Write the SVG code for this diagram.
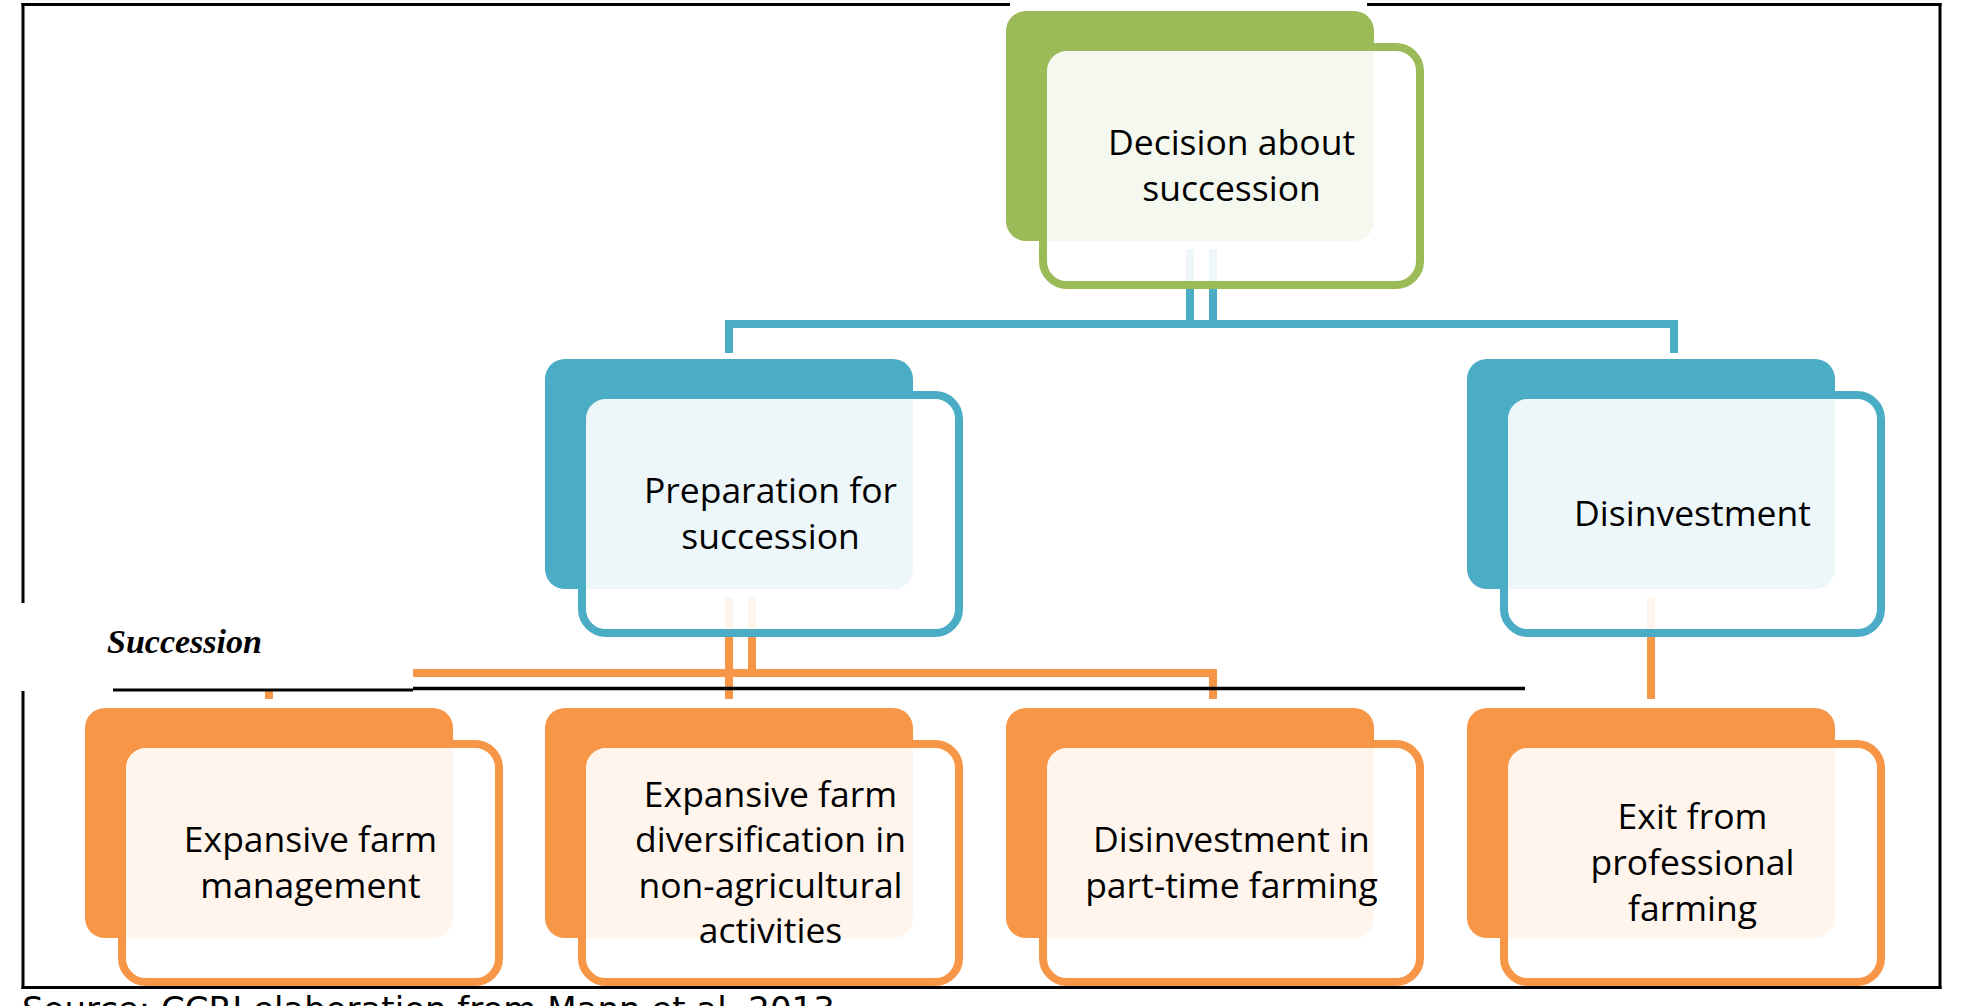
<svg xmlns="http://www.w3.org/2000/svg" width="1963" height="1006" viewBox="0 0 1963 1006">
<style>
.bk{stroke:none}
.fr{fill:#ffffff;fill-opacity:0.9;stroke-width:8}
.green .bk{fill:#9BBB59}
.green .fr{stroke:#9BBB59}
.blue .bk{fill:#4BACC6}
.blue .fr{stroke:#4BACC6}
.orange .bk{fill:#F79646}
.orange .fr{stroke:#F79646}
.lbl{font-family:"Open Sans","Noto Sans",sans-serif;font-size:35.5px;fill:#000000;text-anchor:middle}
#connectors path{fill:none;stroke-width:8;stroke-linecap:butt;stroke-linejoin:miter}
.cb{stroke:#4BACC6}
.co{stroke:#F79646}
.frame line{stroke:#000000;stroke-width:3}
.succ{font-family:"Liberation Serif","Times New Roman",serif;font-size:34px;font-weight:bold;font-style:italic;fill:#000000}
.src{font-family:"DejaVu Sans",Verdana,sans-serif;font-size:34px;fill:#000000}
</style>
<rect x="0" y="0" width="1963" height="1006" fill="#ffffff"/>

<g id="connectors">
<path class="cb" d="M1190,249 V324 M1217,324 H729 V353"/>
<path class="cb" d="M1213,249 V324 M1186,324 H1674 V353"/>
<path class="co" d="M729,598 V673 M756,673 H269 V699"/>
<path class="co" d="M729,598 V699"/>
<path class="co" d="M752,598 V673 M725,673 H1213 V699"/>
<path class="co" d="M1651,598 V699"/>
</g>

<g id="n-decision" class="node green">
<rect class="bk" x="1006" y="11" width="368" height="230" rx="20"/>
<rect class="fr" x="1043" y="47" width="377" height="238" rx="24"/>
<text class="lbl"><tspan x="1231.5" y="155">Decision about</tspan><tspan x="1231.5" y="201">succession</tspan></text>
</g>

<g id="n-preparation" class="node blue">
<rect class="bk" x="545" y="359" width="368" height="230" rx="20"/>
<rect class="fr" x="582" y="395" width="377" height="238" rx="24"/>
<text class="lbl"><tspan x="770.5" y="503">Preparation for</tspan><tspan x="770.5" y="549">succession</tspan></text>
</g>

<g id="n-disinvestment" class="node blue">
<rect class="bk" x="1467" y="359" width="368" height="230" rx="20"/>
<rect class="fr" x="1504" y="395" width="377" height="238" rx="24"/>
<text class="lbl" x="1692.5" y="526">Disinvestment</text>
</g>

<g id="n-expansive-mgmt" class="node orange">
<rect class="bk" x="85" y="708" width="368" height="230" rx="20"/>
<rect class="fr" x="122" y="744" width="377" height="238" rx="24"/>
<text class="lbl"><tspan x="310.5" y="852">Expansive farm</tspan><tspan x="310.5" y="898">management</tspan></text>
</g>

<g id="n-expansive-div" class="node orange">
<rect class="bk" x="545" y="708" width="368" height="230" rx="20"/>
<rect class="fr" x="582" y="744" width="377" height="238" rx="24"/>
<text class="lbl"><tspan x="770.5" y="807">Expansive farm</tspan><tspan x="770.5" y="852">diversification in</tspan><tspan x="770.5" y="898">non-agricultural</tspan><tspan x="770.5" y="943">activities</tspan></text>
</g>

<g id="n-disinvest-parttime" class="node orange">
<rect class="bk" x="1006" y="708" width="368" height="230" rx="20"/>
<rect class="fr" x="1043" y="744" width="377" height="238" rx="24"/>
<text class="lbl"><tspan x="1231.5" y="852">Disinvestment in</tspan><tspan x="1231.5" y="898">part-time farming</tspan></text>
</g>

<g id="n-exit" class="node orange">
<rect class="bk" x="1467" y="708" width="368" height="230" rx="20"/>
<rect class="fr" x="1504" y="744" width="377" height="238" rx="24"/>
<text class="lbl"><tspan x="1692.5" y="829">Exit from</tspan><tspan x="1692.5" y="875">professional</tspan><tspan x="1692.5" y="921">farming</tspan></text>
</g>

<g id="frame" class="frame">
<line x1="21.5" y1="4.5" x2="1010" y2="4.5"/>
<line x1="1367" y1="4.5" x2="1941.5" y2="4.5"/>
<line x1="1940" y1="3" x2="1940" y2="989"/>
<line x1="21.5" y1="987.5" x2="1941.5" y2="987.5"/>
<line x1="23" y1="3" x2="23" y2="989"/>
</g>

<g id="succession-label">
<rect x="0" y="603" width="413" height="88" fill="#ffffff"/>
<text class="succ" x="107" y="653">Succession</text>
<line x1="113" y1="690" x2="413" y2="690" stroke="#000000" stroke-width="3"/>
<line x1="413" y1="688.5" x2="1525" y2="688.5" stroke="#000000" stroke-width="3.5"/>
</g>

<text id="source" class="src" x="22" y="1021">Source: CCRI elaboration from Mann et al. 2013</text>
</svg>
